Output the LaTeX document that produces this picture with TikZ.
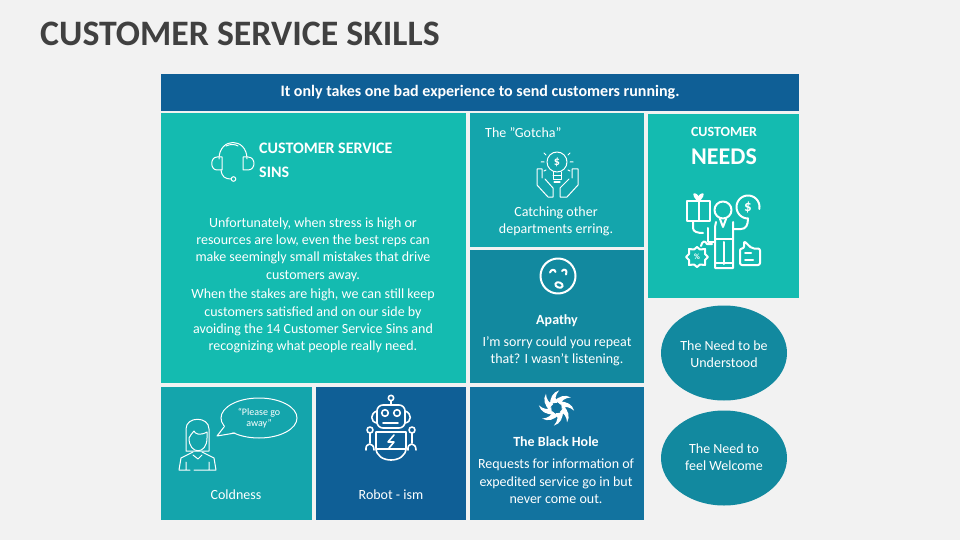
\documentclass[tikz,border=0pt]{standalone}
\usepackage{fontspec}
\setmainfont{Carlito}
\usetikzlibrary{shapes.geometric}
\definecolor{tealA}{HTML}{14BBB0}
\definecolor{tealB}{HTML}{14A5AC}
\definecolor{tealC}{HTML}{12899F}
\definecolor{blueA}{HTML}{0F5F96}
\definecolor{blueB}{HTML}{12739F}
\definecolor{titlec}{HTML}{404040}
\definecolor{pagebg}{HTML}{F2F2F2}
\tikzset{
  txt/.style={text=white,align=center,inner sep=0pt,font=\fontsize{14}{17.3}\selectfont},
  txtb/.style={text=white,align=center,inner sep=0pt,font=\fontsize{14}{17.3}\selectfont\bfseries},
  head/.style={text=white,align=center,inner sep=0pt,font=\fontsize{16}{18}\selectfont\bfseries},
  ico/.style={draw=white,line width=1pt,line cap=round,line join=round,fill=none},
  icoB/.style={draw=white,line width=2pt,line cap=round,line join=round,fill=none},
  oval/.style={ellipse,fill=tealC,inner sep=0pt,minimum width=126pt,minimum height=95pt},
}
\begin{document}
\begin{tikzpicture}[x=1pt,y=-1pt]
\fill[pagebg] (0,0) rectangle (960,540);
\useasboundingbox (0,0) rectangle (960,540);
\node[anchor=west,text=titlec,inner sep=0pt,font=\fontsize{35.8}{40}\selectfont\bfseries] (title) at (40,34) {CUSTOMER SERVICE SKILLS};
% panels
\fill[blueA] (161,74) rectangle (799,111);
\fill[tealA] (161,113) rectangle (466,383);
\fill[tealB] (470,113) rectangle (644,247);
\fill[tealC] (470,250) rectangle (644,383);
\fill[tealA] (648,114) rectangle (799,298);
\fill[tealB] (161,387) rectangle (312,520);
\fill[blueA] (316,387) rectangle (466,520);
\fill[blueB] (470,387) rectangle (644,520);
\node[head] (banner) at (480,92) {It only takes one bad experience to send customers running.};
% sins
\node[head,anchor=west] (sinsa) at (259,148) {CUSTOMER SERVICE};
\node[head,anchor=west] (sinsb) at (259,172) {SINS};
\node[txt] (sinsc) at (313,249.5) {Unfortunately, when stress is high or\\resources are low, even the best reps can\\make seemingly small mistakes that drive\\customers away.};
\node[txt] (sinsd) at (313,321) {When the stakes are high, we can still keep\\customers satisfied and on our side by\\avoiding the 14 Customer Service Sins and\\recognizing what people really need.};
% headset icon
\draw[ico] (219,159) .. controls (219,137) and (247,137) .. (247,159);
\draw[ico] (226,146) .. controls (230,144) and (235,144) .. (238,146);
\draw[ico] (222,157) -- (217,157) .. controls (210,157) and (210,170) .. (217,170) -- (222,170) -- cycle;
\draw[ico] (243,157) -- (248,157) .. controls (256,157) and (256,170) .. (248,170) -- (243,170) -- cycle;
\draw[ico] (221,170) .. controls (222,177) and (225,179) .. (231,179);
\draw[ico] (233.5,179) circle (2.3);
% gotcha
\node[txt,anchor=west] (gota) at (485,133) {The "Gotcha"};
\node[txt] (gotb) at (556,221.5) {Catching other\\departments erring.};
\draw[ico] (557,162) circle (10);
\node[text=white,inner sep=0pt,font=\fontsize{12}{12}\selectfont\bfseries] (dollar) at (557,162) {\$};
\draw[ico] (553,172) -- (553,180) -- (561,180) -- (561,172);
\draw[ico] (553,176) -- (561,176) (554,182) -- (560,182);
\draw[ico] (544,153) -- (546,155) (570,153) -- (568,155) (544,162) -- (541,162) (570,162) -- (573,162) (546,170) -- (544,171) (568,170) -- (570,171);
\draw[ico] (542,169) -- (537,169) -- (537,185) -- (548,197) -- (553,197) -- (553,188) -- (545,179) (542,169) -- (542,178);
\draw[ico] (572,169) -- (578,169) -- (578,185) -- (567,197) -- (560,197) -- (560,188) -- (569,179) (572,169) -- (572,178);
% apathy
\draw[icoB] (558,276) circle (17.5);
\draw[icoB] (550,272.5) .. controls (551,269) and (555,269) .. (555.5,272);
\draw[icoB] (562,271) .. controls (564,268) and (568,270) .. (566,274.5);
\draw[icoB,rotate around={-20:(559,285)}] (559,285) ellipse (3.8 and 2.6);
\node[txtb] (apa) at (557,320.5) {Apathy};
\node[txt] (apb) at (557,351.5) {I'm sorry could you repeat\\that? I wasn't listening.};
% needs
\node[txtb] (na) at (724,131.5) {CUSTOMER};
\node[txt,font=\fontsize{24}{26}\selectfont\bfseries] (nb) at (724,157) {NEEDS};
\begin{scope}[icoB]
\draw (687,201) rectangle (710,221);
\draw (698.5,201) -- (698.5,221);
\draw (698.5,201) .. controls (691,193) and (695,192) .. (698.5,198) .. controls (702,192) and (706,193) .. (698.5,201);
\draw (723,210) circle (8.5);
\draw (720,219) -- (723,227) -- (726,219);
\draw (716,222) -- (715,227) -- (715,242) (715,242) -- (715,268) -- (733,268) -- (733,222);
\draw (708,228) -- (708,242) -- (715,242) (715,239) -- (732,239);
\draw (723.5,242) -- (723.5,264) (715,263) -- (733,263);
\draw (733,229) -- (741,229) .. controls (746,229) and (748,225) .. (748,218.5);
\draw plot[domain=90:370,samples=48] ({748+11.5*cos(\x)},{207+11.5*sin(\x)});
\draw (693,221) -- (693,228) .. controls (693,232) and (698,233) .. (703,233);
\draw (701,246) .. controls (702,241) and (705,240) .. (707,244) -- (712,244);
\draw[rounded corners=2pt] (744,241) -- (752,248.5) -- (760,248.5) -- (760,265) -- (740,265) -- (740,248.5) -- (744,248.5) -- cycle;
\draw (745,253) -- (751,253) (745,260) -- (753,260);
\draw (697,247) -- (700,249.5) -- (705,249) -- (705,254) -- (708,257) -- (705,260) -- (705,265) -- (700,264.5) -- (697,267) -- (694,264.5) -- (689,265) -- (689,260) -- (686,257) -- (689,254) -- (689,249) -- (694,249.5) -- cycle;
\end{scope}
\node[text=white,inner sep=0pt,font=\fontsize{15}{15}\selectfont\bfseries] (dollarc) at (748,207) {\$};
\node[text=white,inner sep=0pt,font=\fontsize{8}{8}\selectfont\bfseries] (pct) at (697,257) {\%};
\node[oval] (ea) at (724,353) {};
\node[txt] (eat) at (724,354) {The Need to be\\Understood};
\node[oval] (eb) at (724,458) {};
\node[txt] (ebt) at (724,457) {The Need to\\feel Welcome};
% coldness
\node[txt] (ca) at (236,494.5) {Coldness};
\node[draw=white,line width=1pt,ellipse,minimum width=76pt,minimum height=40pt,inner sep=0pt,text=white,align=center,font=\fontsize{10}{11.5}\selectfont] (bub) at (259,418) {“Please go\\away”};
\fill[tealB] (226,425) -- (220,434) -- (238,432) -- cycle;
\draw[ico] (224,427) -- (217,436) -- (235,433);
\draw[ico] (186,451) -- (186,429) .. controls (186,416) and (209,416) .. (209,429) -- (209,451) -- cycle;
\draw[ico] (189,438) .. controls (189,455) and (207,455) .. (207,438) -- (207,432) .. controls (200,436) and (195,434) .. (194,431) .. controls (192,434) and (190,435) .. (189,438);
\draw[ico] (193,452) -- (181,458) -- (179,470) -- (190,470) (194,470) -- (216,470) -- (214,458) -- (202,452) (193,455) -- (198,459) -- (202,455) (186,462) -- (186,470) (209,462) -- (209,470);
% robot
\node[txt] (ra) at (391,494.5) {Robot - ism};
\begin{scope}[icoB,line width=1.6pt]
\draw (391,398) circle (2.7) (391,401) -- (391,405);
\draw[rounded corners=6pt] (377,405) rectangle (405,428);
\draw (377,411) .. controls (370,413) and (370,422) .. (377,423);
\draw (405,411) .. controls (412,413) and (412,422) .. (405,423);
\draw (385,413) circle (3.3) (397,413) circle (3.3);
\draw (383,423) -- (398,423);
\draw (376,432) -- (406,432) -- (406,448) .. controls (406,464) and (376,464) .. (376,448) -- cycle;
\draw (376,449) -- (406,449);
\draw (394,435) -- (388,442) -- (394,442) -- (389,448);
\draw (370,430) circle (3) (412,430) circle (3);
\draw (370,433) -- (370,443) (412,433) -- (412,443);
\draw (366,450) .. controls (365,442) and (374,442) .. (374,450);
\draw (408,450) .. controls (407,442) and (416,442) .. (416,450);
\end{scope}
% black hole
\node[txtb] (ba) at (556,441.5) {The Black Hole};
\node[txt] (bb) at (556,481.5) {Requests for information of\\expedited service go in but\\never come out.};
\foreach \a in {0,45,...,315}{
  \fill[white,shift={(556.5,408)},rotate=\a,scale=0.92] (-3,-7) .. controls (3,-13) and (9,-15) .. (15.5,-11.5) .. controls (9,-11) and (5,-8) .. (4.5,-3.5) .. controls (3,-6) and (0,-7) .. (-3,-7) -- cycle;
}
\end{tikzpicture}
\end{document}
